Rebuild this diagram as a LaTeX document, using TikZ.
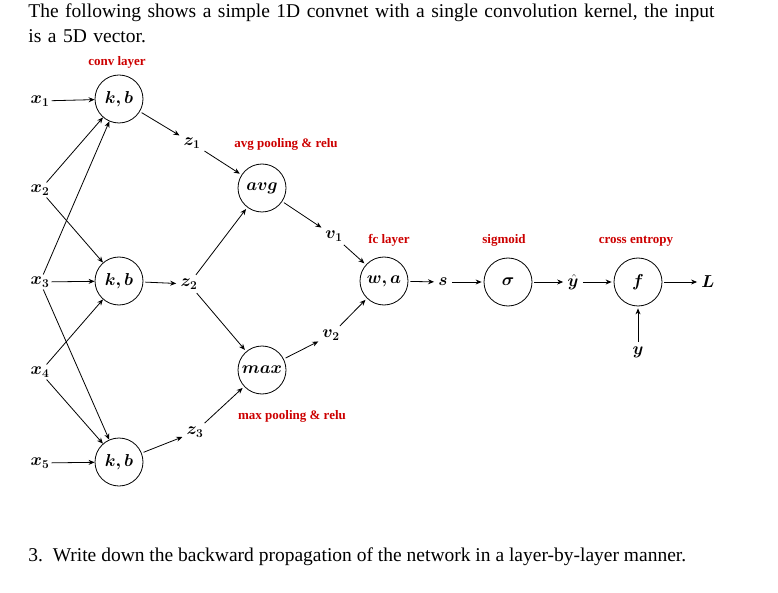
\documentclass[tikz,border=0pt]{standalone}
\usepackage{fontspec}
\setmainfont{Liberation Serif}
\usepackage{bm}
\usetikzlibrary{arrows.meta}

\begin{document}
\begin{tikzpicture}[x=1pt,y=-1pt,>={Stealth[length=6pt,width=5pt]},
  unit/.style={circle,draw,thick,minimum size=48pt,inner sep=0pt,font=\fontsize{17}{19}\selectfont},
  var/.style={inner sep=2pt,font=\fontsize{17}{19}\selectfont},
  layer/.style={text=red!80!black,font=\bfseries\fontsize{13}{15}\selectfont},
  every path/.style={thick}]
  \useasboundingbox (0,0) rectangle (778,593);
  \node[anchor=north west,align=left,font=\fontsize{19.5}{25}\selectfont,text width=700pt,inner sep=0pt] (top) at (28,3)
    {The following shows a simple 1D convnet with a single convolution kernel, the input is a 5D vector.};
  \node[anchor=west,font=\fontsize{19.5}{23}\selectfont,inner sep=0pt] (bot) at (28,557)
    {3.\ \ Write down the backward propagation of the network in a layer-by-layer manner.};
  % inputs
  \foreach \i/\y in {1/101,2/190,3/282,4/372,5/463}
    \node[var] (x\i) at (40,\y) {$\bm{x_\i}$};
  % conv layer
  \node[unit] (kb1) at (119,99) {$\bm{k,b}$};
  \node[unit] (kb2) at (119,281) {$\bm{k,b}$};
  \node[unit] (kb3) at (119,462) {$\bm{k,b}$};
  \node[var] (z1) at (192,143) {$\bm{z_1}$};
  \node[var] (z2) at (189,284) {$\bm{z_2}$};
  \node[var] (z3) at (195,432) {$\bm{z_3}$};
  % pooling
  \node[unit] (avg) at (262,188) {$\bm{avg}$};
  \node[unit] (max) at (262,370) {$\bm{max}$};
  \node[var] (v1) at (334,236) {$\bm{v_1}$};
  \node[var] (v2) at (331,335) {$\bm{v_2}$};
  % fc, sigmoid, loss
  \node[unit] (wa) at (384,281) {$\bm{w,a}$};
  \node[var] (s) at (443,282) {$\bm{s}$};
  \node[unit] (sig) at (508,282) {$\bm{\sigma}$};
  \node[var] (yh) at (573,282) {$\bm{\hat y}$};
  \node[unit] (f) at (638,282) {$\bm{f}$};
  \node[var] (L) at (708,282) {$\bm{L}$};
  \node[var] (y) at (638,352) {$\bm{y}$};
  % layer names
  \node[layer] (lconv) at (117,62) {conv layer};
  \node[layer] (lavg) at (286,144) {avg pooling \& relu};
  \node[layer] (lmax) at (292,416) {max pooling \& relu};
  \node[layer] (lfc) at (389,240) {fc layer};
  \node[layer] (lsig) at (504,240) {sigmoid};
  \node[layer] (lce) at (636,241) {cross entropy};

  \foreach \a/\b in {x1/kb1,x2/kb1,x3/kb1,x2/kb2,x3/kb2,x4/kb2,x3/kb3,x4/kb3,x5/kb3}
    \draw[->] (\a) -- (\b);
  \foreach \a/\b in {kb1/z1,kb2/z2,kb3/z3,z1/avg,z2/avg,z2/max,z3/max,avg/v1,max/v2,
    v1/wa,v2/wa,wa/s,s/sig,sig/yh,yh/f,f/L,y/f}
    \draw[->,shorten >=2pt,shorten <=2pt] (\a) -- (\b);
\end{tikzpicture}
\end{document}
